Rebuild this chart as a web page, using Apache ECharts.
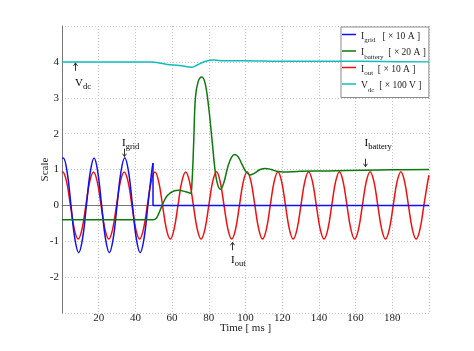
<!DOCTYPE html>
<html>
<head>
<meta charset="utf-8">
<script src="https://cdn.jsdelivr.net/npm/echarts@6/dist/echarts.min.js"></script>
<style>
  html, body { margin: 0; padding: 0; background: #fff; }
  #main { width: 474px; height: 351px; }
</style>
</head>
<body>
<div id="main"></div>
<script>
// values, [time ms, scaled value]
var iOut = [
  [0, 0.92],
  [0.4, 0.93], [2.5, 0.66], [4.6, 0], [6.7, -0.66], [8.8, -0.94], [10.9, -0.66], [13.0, 0], [15.1, 0.66],
  [17.2, 0.93], [19.2, 0.66], [21.3, 0], [23.4, -0.66], [25.5, -0.94], [27.6, -0.66], [29.7, 0], [31.8, 0.66],
  [33.9, 0.93], [36.0, 0.66], [38.1, 0], [40.2, -0.66], [42.3, -0.94], [44.4, -0.66], [46.5, 0], [48.6, 0.66],
  [50.7, 0.93], [52.7, 0.66], [54.8, 0], [56.9, -0.66], [59.0, -0.94], [61.1, -0.66], [63.2, 0], [65.3, 0.66],
  [67.4, 0.93], [69.5, 0.66], [71.6, 0], [73.7, -0.66], [75.8, -0.94], [77.9, -0.66], [80.0, 0], [82.1, 0.66],
  [84.2, 0.94], [86.2, 0.66], [88.3, 0], [90.4, -0.66], [92.5, -0.94], [94.6, -0.66], [96.7, 0], [98.8, 0.66],
  [100.9, 0.94], [103.0, 0.66], [105.1, 0], [107.2, -0.66], [109.3, -0.94], [111.4, -0.66], [113.5, 0], [115.6, 0.66],
  [117.7, 0.94], [119.7, 0.66], [121.8, 0], [123.9, -0.66], [126.0, -0.94], [128.1, -0.66], [130.2, 0], [132.3, 0.66],
  [134.4, 0.94], [136.5, 0.66], [138.6, 0], [140.7, -0.66], [142.8, -0.94], [144.9, -0.66], [147.0, 0], [149.1, 0.66],
  [151.2, 0.94], [153.2, 0.66], [155.3, 0], [157.4, -0.66], [159.5, -0.94], [161.6, -0.66], [163.7, 0], [165.8, 0.66],
  [167.9, 0.94], [170.0, 0.66], [172.1, 0], [174.2, -0.66], [176.3, -0.94], [178.4, -0.66], [180.5, 0], [182.6, 0.66],
  [184.7, 0.94], [186.7, 0.66], [188.8, 0], [190.9, -0.66], [193.0, -0.94], [195.1, -0.66], [197.2, 0], [199.3, 0.66],
  [200, 0.84]
];

var iGrid = [
  [0, 1.31],
  [0.7, 1.32], [2.8, 0.93], [4.9, 0], [7.0, -0.93], [9.1, -1.32], [11.2, -0.93], [13.3, 0], [15.4, 0.93],
  [17.5, 1.32], [19.5, 0.93], [21.6, 0], [23.7, -0.93], [25.8, -1.32], [27.9, -0.93], [30.0, 0], [32.1, 0.93],
  [34.2, 1.33], [36.3, 0.93], [38.4, 0], [40.5, -0.93], [42.6, -1.32], [44.7, -0.93], [46.8, 0], [48.9, 0.95],
  [49.6, 1.18]
];
var iGridOff = [[49.6, 1.18], [49.6, 0], [200, 0]];

var iBattery = [
  [0, -0.4], [49.8, -0.4], [51.5, -0.35], [52.7, -0.23], [54.6, 0], [57.3, 0.27], [60.9, 0.4],
  [63.6, 0.42], [67.3, 0.38], [70.0, 0.34], [70.8, 0.6], [71.8, 1.8], [72.7, 3.0], [74.2, 3.45],
  [76.2, 3.58], [78.0, 3.4], [79.9, 2.75], [81.8, 1.8], [83.6, 0.9], [85.0, 0.55], [86.3, 0.45],
  [88.0, 0.6], [90.5, 1.1], [92.5, 1.35], [94.2, 1.42], [96.0, 1.35], [98.5, 1.1], [100.5, 0.92],
  [102.7, 0.85], [105.0, 0.9], [108.0, 1.0], [110.9, 1.03], [114.0, 1.0], [117.0, 0.95],
  [120.9, 0.93], [130, 0.95], [145, 0.96], [165, 0.98], [180, 0.99], [200, 1.0]
];

var vdc = [
  [0, 4.0], [49, 4.0], [53, 3.97], [57.3, 3.93], [64, 3.9], [70.7, 3.85], [74, 3.92], [78, 4.01],
  [82.7, 4.05], [88, 4.03], [97.3, 4.03], [120, 4.02], [150, 4.02], [175, 4.01], [200, 4.0]
];

var legendText = {
  Igrid: '{m|I}{s|grid}{m|   [ \u00d7 10 A ]}',
  Ibattery: '{m|I}{s|battery}{m|  [ \u00d7 20 A ]}',
  Iout: '{m|I}{s|out}{m|  [ \u00d7 10 A ]}',
  Vdc: '{m|V}{s|dc}{m|  [ \u00d7 100 V ]}'
};

// annotation anchors in data coordinates
var arrows = [
  { at: [7.1, 3.86], up: true },
  { at: [34.0, 1.47], up: false },
  { at: [165.1, 1.19], up: false },
  { at: [92.8, -1.14], up: true }
];
var labels = [
  { at: [7.1, 3.45], main: 'V', sub: 'dc' },
  { at: [32.7, 1.78], main: 'I', sub: 'grid' },
  { at: [164.9, 1.78], main: 'I', sub: 'battery' },
  { at: [92.1, -1.48], main: 'I', sub: 'out' }
];

var serif = '"Liberation Serif", "Times New Roman", serif';
var ink = '#222';
var rich = {
  m: { fontFamily: serif, fontSize: 11, color: ink, verticalAlign: 'bottom', lineHeight: 14 },
  s: { fontFamily: serif, fontSize: 8.5, color: ink, verticalAlign: 'bottom', lineHeight: 14, padding: [0, 0, -3, 0] }
};
var legendRich = {
  m: { fontFamily: serif, fontSize: 9.5, color: ink, verticalAlign: 'bottom', lineHeight: 13 },
  s: { fontFamily: serif, fontSize: 7, color: ink, verticalAlign: 'bottom', lineHeight: 13, padding: [0, 0, -3, 0] }
};

function lineSeries (name, data, color, z) {
  return {
    name: name,
    type: 'line',
    data: data,
    symbol: 'none',
    smooth: 0.4,
    z: z,
    lineStyle: { color: color, width: 1.5 },
    itemStyle: { color: color }
  };
}

var chart = echarts.init(document.getElementById('main'));

var option = {
  backgroundColor: '#fff',
  animation: false,
  grid: { left: 62, right: 45, top: 26, bottom: 38 },
  xAxis: {
    type: 'value',
    min: 0, max: 200, interval: 20,
    name: 'Time [ ms ]',
    nameLocation: 'middle',
    nameGap: 10,
    nameMoveOverlap: false,
    nameTextStyle: { fontFamily: serif, fontSize: 11, color: ink },
    axisLine: { lineStyle: { color: '#777', width: 1 } },
    axisTick: { show: false },
    axisLabel: { fontFamily: serif, fontSize: 11, color: ink, margin: 0, showMinLabel: false, showMaxLabel: false },
    splitLine: { show: true, lineStyle: { color: '#c4c4c4', type: [1, 2] } }
  },
  yAxis: {
    type: 'value',
    min: -3, max: 5, interval: 1,
    name: 'Scale',
    nameLocation: 'middle',
    nameGap: 11,
    nameMoveOverlap: false,
    nameTextStyle: { fontFamily: serif, fontSize: 11, color: ink },
    axisLine: { show: true, lineStyle: { color: '#777', width: 1 } },
    axisTick: { show: false },
    axisLabel: { fontFamily: serif, fontSize: 11, color: ink, margin: 3, showMinLabel: false, showMaxLabel: false },
    splitLine: { show: true, lineStyle: { color: '#c4c4c4', type: [1, 2] } }
  },
  legend: {
    data: ['Igrid', 'Ibattery', 'Iout', 'Vdc'],
    orient: 'vertical',
    left: 341, top: 27,
    padding: [4, 3, 4, 1],
    icon: 'rect',
    itemWidth: 14, itemHeight: 1.5, itemGap: 3.5,
    backgroundColor: '#fff',
    borderColor: '#8a8a8a', borderWidth: 1, borderRadius: 0,
    formatter: function (name) { return legendText[name]; },
    textStyle: { fontFamily: serif, fontSize: 9.5, color: ink, rich: legendRich }
  },
  series: [
    lineSeries('Iout', iOut, '#f01010', 2),
    lineSeries('Igrid', iGrid, '#1010f0', 3),
    Object.assign(lineSeries('Igrid', iGridOff, '#1010f0', 3), { smooth: false }),
    lineSeries('Ibattery', iBattery, '#0c7a0c', 4),
    lineSeries('Vdc', vdc, '#10bcbc', 5)
  ]
};

chart.setOption(option);

var graphic = [];
arrows.forEach(function (a) {
  var p = chart.convertToPixel({ gridIndex: 0 }, a.at);
  var x = Math.round(p[0]) + 0.5;
  var top = p[1] - 4, bot = p[1] + 4;
  var tip = a.up ? top : bot;
  var base = a.up ? tip + 3 : tip - 3;
  graphic.push({
    type: 'line', z: 100,
    shape: { x1: x, y1: top, x2: x, y2: bot },
    style: { stroke: '#333', lineWidth: 1 }
  });
  graphic.push({
    type: 'polyline', z: 100,
    shape: { points: [[x - 2, base], [x, tip], [x + 2, base]] },
    style: { stroke: '#333', lineWidth: 1, fill: null }
  });
});
labels.forEach(function (l) {
  var p = chart.convertToPixel({ gridIndex: 0 }, l.at);
  graphic.push({
    type: 'text', x: p[0], y: p[1], z: 100,
    style: {
      text: '{m|' + l.main + '}{s|' + l.sub + '}',
      rich: rich, align: 'left', verticalAlign: 'middle'
    }
  });
});
chart.setOption({ graphic: graphic });
</script>
</body>
</html>
